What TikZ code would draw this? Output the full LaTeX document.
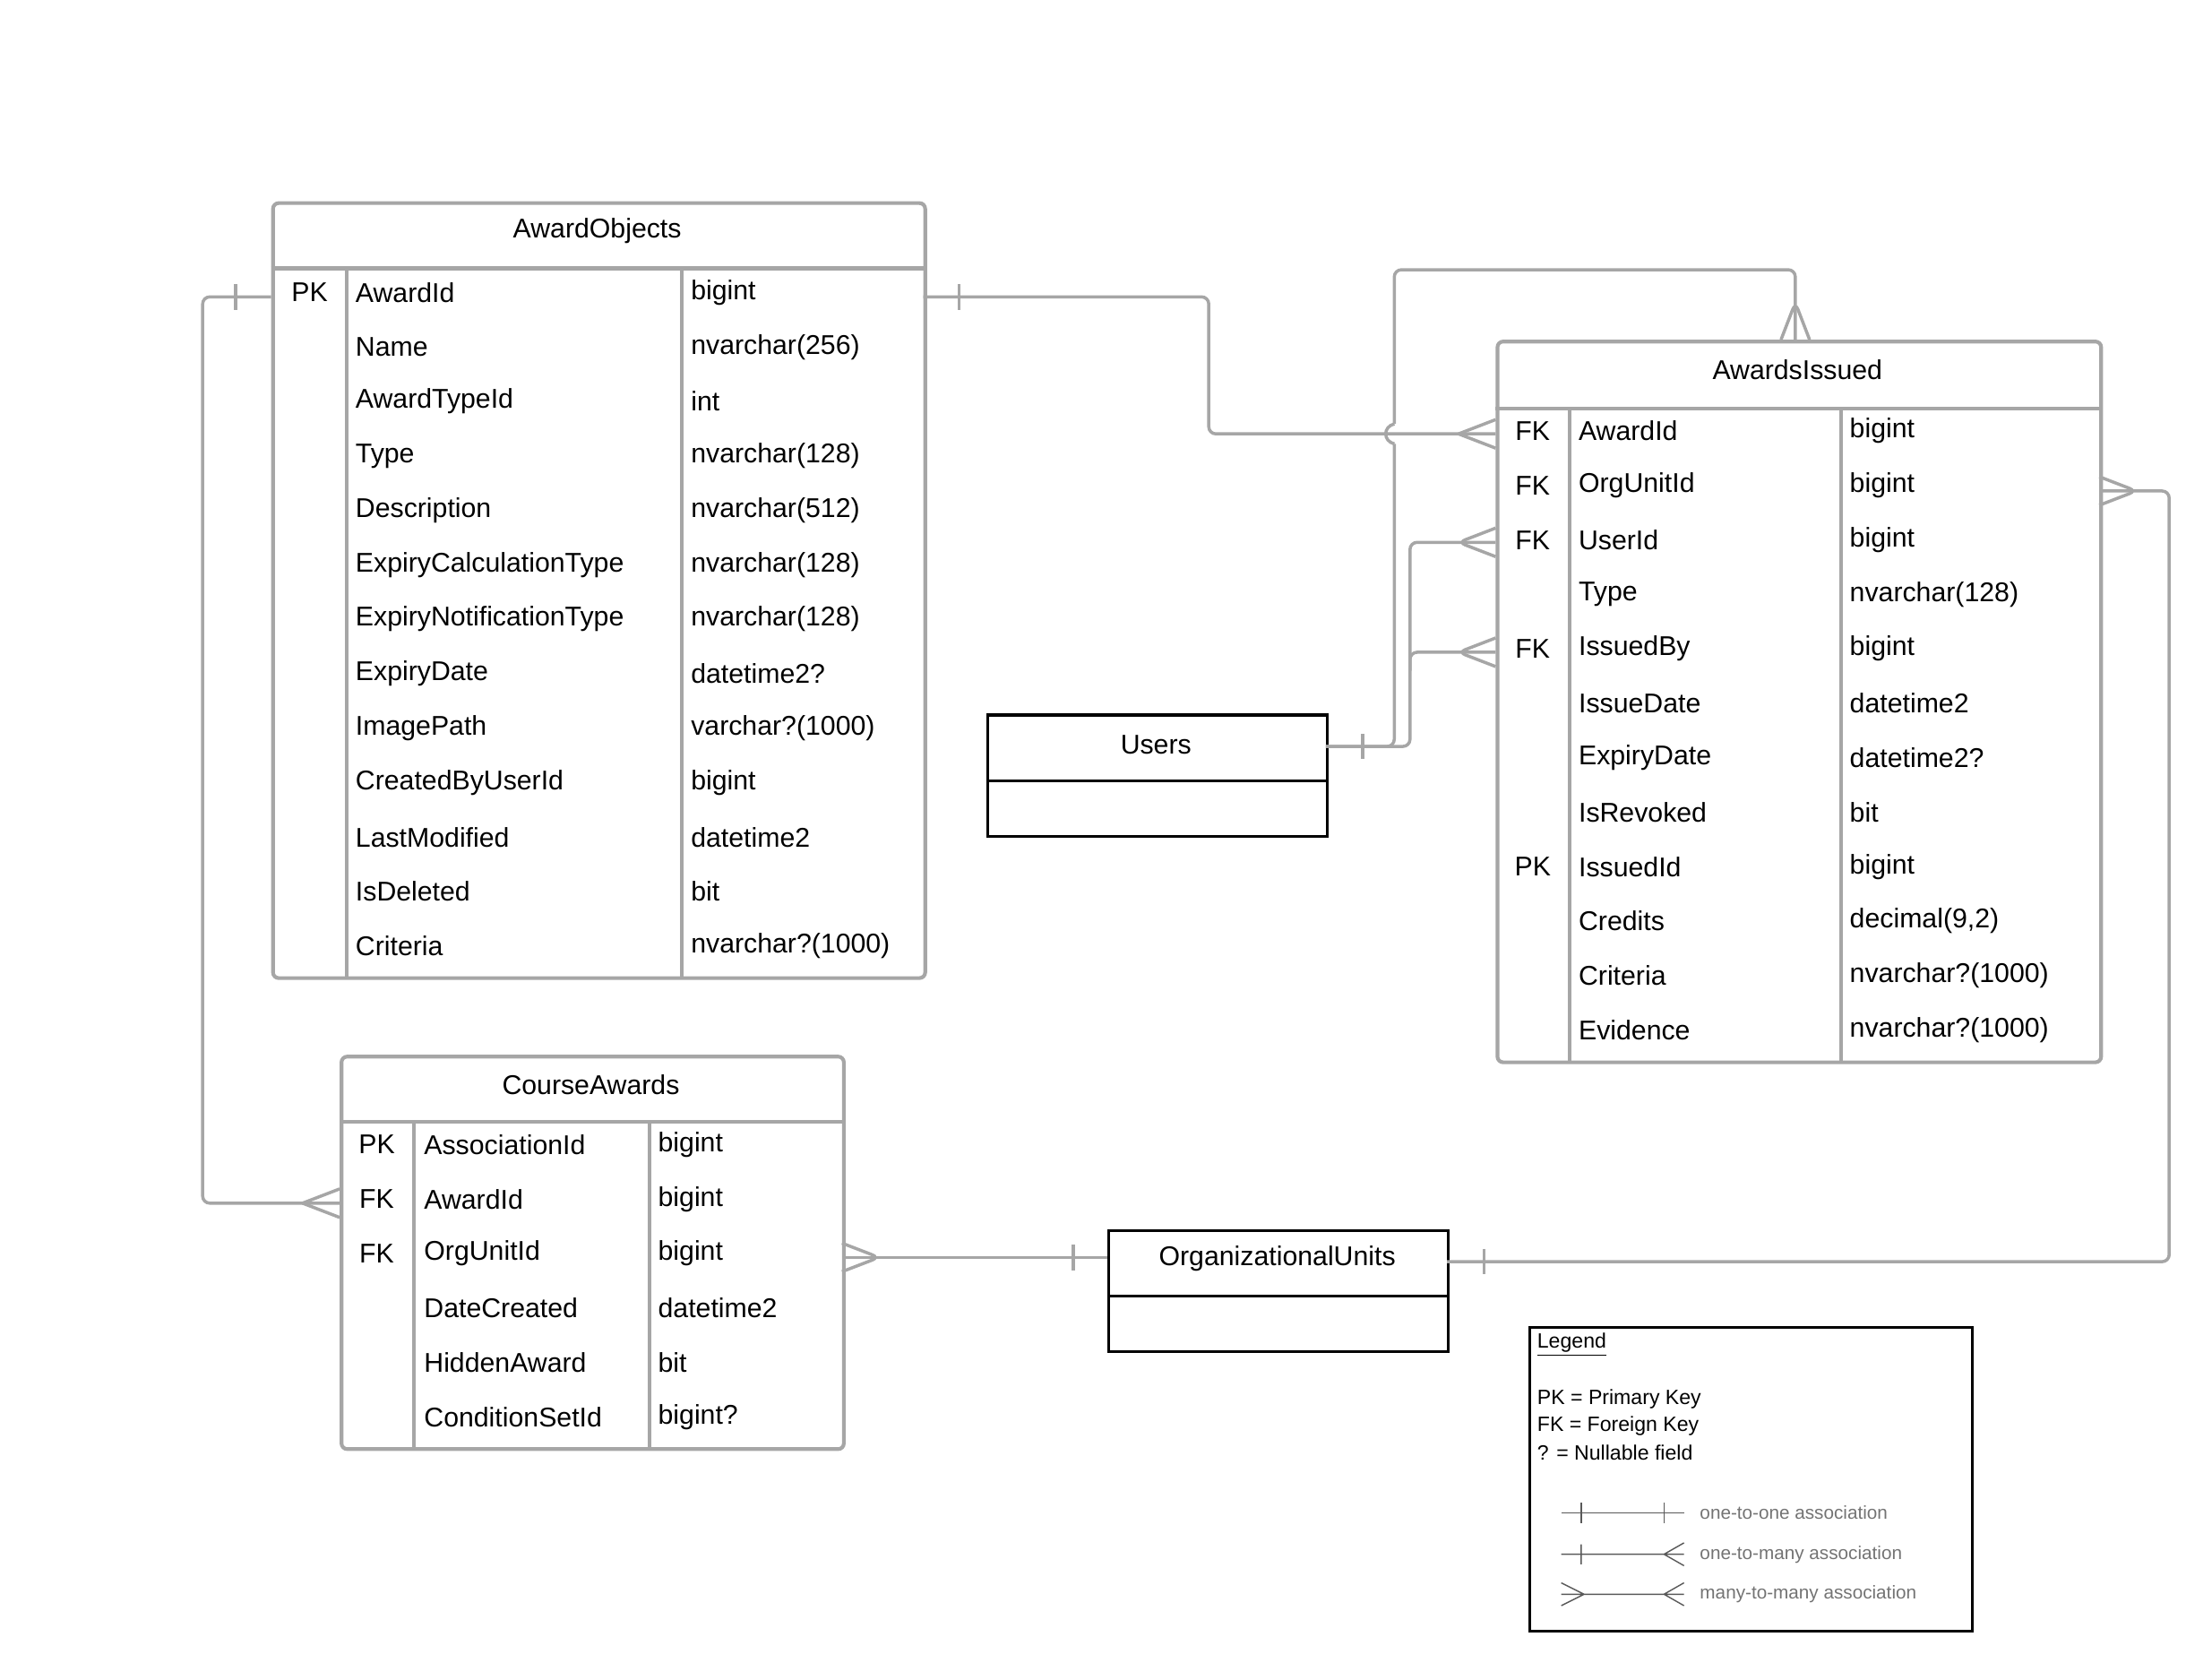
\documentclass[tikz,border=0pt]{standalone}
\usepackage{fontspec}
\setmainfont{Liberation Sans}
\begin{document}
\begin{tikzpicture}[x=1pt,y=-1pt,
  tbl/.style={draw=gray!70,line width=2.6pt,rounded corners=4pt},
  sep/.style={draw=gray!70,line width=2.6pt},
  blk/.style={draw=black,line width=2pt},
  con/.style={draw=gray!70,line width=2.2pt,rounded corners=5pt},
  txt/.style={font=\fontsize{19}{19}\selectfont,anchor=west,inner sep=0pt},
  ttl/.style={font=\fontsize{19}{19}\selectfont,inner sep=0pt},
  lg/.style={font=\fontsize{14.5}{14.5}\selectfont,anchor=west,inner sep=0pt},
  lga/.style={font=\fontsize{13}{13}\selectfont,anchor=west,inner sep=0pt,text=gray!90!black}]
\useasboundingbox (0,0) rectangle (1550,1177);
\newcommand\rows[5]{% x key, x name, x type, y start, list
  \foreach \k/\n/\t [count=\i from 0] in {#5}{
    \node[txt] at (#2,#4+38.15*\i) {\n};
    \node[txt] at (#3,#4+38.15*\i) {\t};
    \node[ttl] at (#1,#4+38.15*\i) {\k};
  }}
% AwardObjects
\node[tbl,minimum width=457,minimum height=543,anchor=north west,inner sep=0] (ao) at (190,141) {};
\draw[sep] (190,188)--(647,188) (243,188)--(243,684) (478,188)--(478,684);
\node[ttl] at (418.5,162) {AwardObjects};
\rows{217}{249}{484}{205}{PK/AwardId/bigint, /Name/nvarchar(256), /AwardTypeId/int, /Type/nvarchar(128), /Description/nvarchar(512), /ExpiryCalculationType/nvarchar(128), /ExpiryNotificationType/nvarchar(128), /ExpiryDate/datetime2?, /ImagePath/varchar?(1000), /CreatedByUserId/bigint, /LastModified/datetime2, /IsDeleted/bit, /Criteria/nvarchar?(1000)}
% AwardsIssued
\node[tbl,minimum width=423,minimum height=505,anchor=north west,inner sep=0] (ai) at (1048,238) {};
\draw[sep] (1048,286)--(1471,286) (1100,286)--(1100,743) (1290,286)--(1290,743);
\node[ttl] at (1259.5,259) {AwardsIssued};
\rows{1074}{1106}{1296}{302}{FK/AwardId/bigint, FK/OrgUnitId/bigint, FK/UserId/bigint, /Type/nvarchar(128), FK/IssuedBy/bigint, /IssueDate/datetime2, /ExpiryDate/datetime2?, /IsRevoked/bit, PK/IssuedId/bigint, /Credits/{decimal(9,2)}, /Criteria/nvarchar?(1000), /Evidence/nvarchar?(1000)}
% CourseAwards
\node[tbl,minimum width=352,minimum height=275,anchor=north west,inner sep=0] (ca) at (238,739) {};
\draw[sep] (238,786)--(590,786) (290,786)--(290,1014) (455,786)--(455,1014);
\node[ttl] at (414,760) {CourseAwards};
\rows{264}{297}{461}{802}{PK/AssociationId/bigint, FK/AwardId/bigint, FK/OrgUnitId/bigint, /DateCreated/datetime2, /HiddenAward/bit, /ConditionSetId/bigint?}
% Users
\node[blk,minimum width=238,minimum height=85,anchor=north west,inner sep=0] (us) at (691,500) {};
\draw[blk] (691,547)--(929,547);
\node[ttl] at (810,522) {Users};
% OrganizationalUnits
\node[blk,minimum width=238,minimum height=85,anchor=north west,inner sep=0] (ou) at (776,861) {};
\draw[blk] (776,908)--(1014,908);
\node[ttl] at (895,882) {OrganizationalUnits};
% connectors
\coordinate (ao-r) at (647,208); \coordinate (ai-a) at (1048,304);
\draw[con] (ao-r) -- (847,208) -- (847,304) -- (ai-a);
\draw[con] (672,199)--(672,217);
\draw[con] (ai-a)++(-26,0) -- (1048,294) (1022,304)--(1048,314);
\coordinate (ao-l) at (190,208); \coordinate (ca-a) at (238,843);
\draw[con] (ao-l) -- (142,208) -- (142,843) -- (ca-a);
\draw[con] (165,199)--(165,217);
\draw[con] (212,843)--(238,833) (212,843)--(238,853);
\coordinate (us-r) at (929,523);
\draw[con] (us-r) -- (977,523) -- (977,311);
\draw[draw=gray!70,line width=2.2pt] (977,311) .. controls (969,309) and (969,299) .. (977,297);
\draw[con] (977,297) -- (977,189) -- (1258,189) -- (1258,238);
\draw[con] (1248,238)--(1258,212)--(1268,238);
\draw[con] (us-r) -- (988,523) -- (988,380) -- (1048,380);
\draw[con] (988,470) -- (988,457) -- (1048,457);
\draw[con] (955,514)--(955,532);
\draw[con] (1048,370)--(1022,380)--(1048,390);
\draw[con] (1048,447)--(1022,457)--(1048,467);
\coordinate (ca-r) at (590,881); \coordinate (ou-l) at (776,881);
\draw[con] (ca-r) -- (ou-l);
\draw[con] (590,871)--(616,881)--(590,891);
\draw[con] (752,872)--(752,890);
\coordinate (ou-r) at (1014,884); \coordinate (ai-r) at (1471,344);
\draw[con] (ou-r) -- (1520,884) -- (1520,344) -- (ai-r);
\draw[con] (1040,875)--(1040,893);
\draw[con] (1471,334)--(1497,344)--(1471,354);
% Legend
\node[blk,minimum width=310,minimum height=213,anchor=north west,inner sep=0] (lgd) at (1071,929) {};
\node[lg] at (1077,942) {\underline{Legend}};
\node[lg] at (1077,980) {PK = Primary Key};
\node[lg] at (1077,999) {FK = Foreign Key};
\node[lg] at (1077,1018) {? = Nullable field};
\begin{scope}[draw=gray!70!black,line width=0.9pt]
\draw (1094,1060)--(1180,1060) (1108,1053)--(1108,1067) (1166,1053)--(1166,1067);
\draw (1094,1089)--(1180,1089) (1108,1082)--(1108,1096) (1180,1081)--(1166,1089)--(1180,1097);
\draw (1094,1117)--(1180,1117) (1094,1109)--(1110,1117)--(1094,1125) (1180,1109)--(1166,1117)--(1180,1125);
\end{scope}
\node[lga] at (1191,1060) {one-to-one association};
\node[lga] at (1191,1089) {one-to-many association};
\node[lga] at (1191,1117) {many-to-many association};
\end{tikzpicture}
\end{document}
